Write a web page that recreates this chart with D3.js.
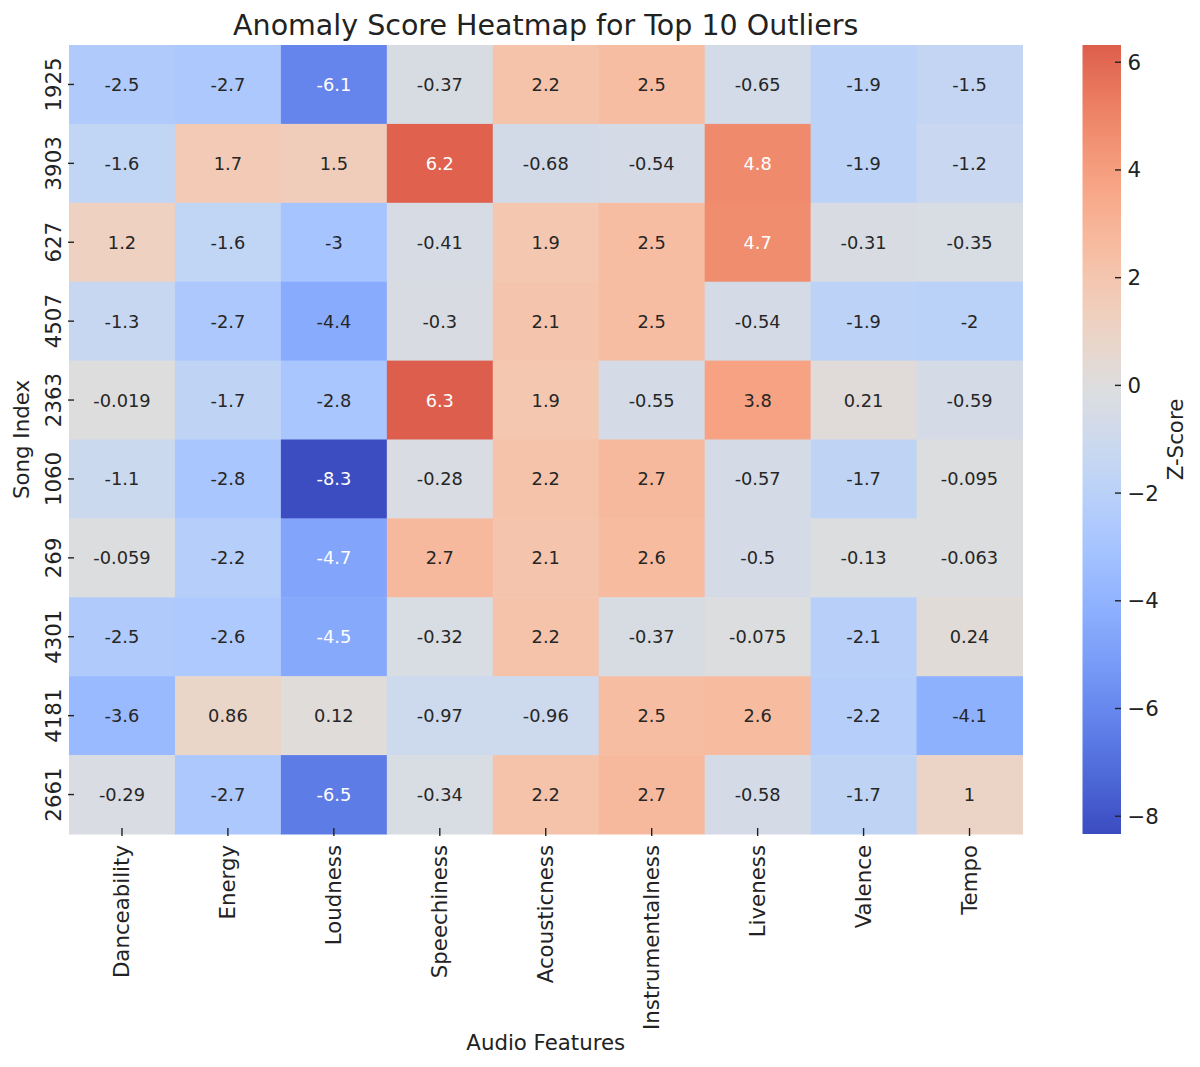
<!DOCTYPE html>
<html>
<head>
<meta charset="utf-8">
<script src="https://cdn.jsdelivr.net/npm/d3@7"></script>
<style>
  body { margin: 0; background: #fff; }
  svg { display: block; font-family: "DejaVu Sans", sans-serif; }
</style>
</head>
<body>
<div id="chart"></div>
<script>
// data
const songs = ["1925", "3903", "627", "4507", "2363", "1060", "269", "4301", "4181", "2661"];
const features = ["Danceability", "Energy", "Loudness", "Speechiness", "Acousticness",
  "Instrumentalness", "Liveness", "Valence", "Tempo"];
const zscores = [
  [-2.5, -2.7, -6.1, -0.37, 2.2, 2.5, -0.65, -1.9, -1.5],
  [-1.6, 1.7, 1.5, 6.2, -0.68, -0.54, 4.8, -1.9, -1.2],
  [1.2, -1.6, -3, -0.41, 1.9, 2.5, 4.7, -0.31, -0.35],
  [-1.3, -2.7, -4.4, -0.3, 2.1, 2.5, -0.54, -1.9, -2],
  [-0.019, -1.7, -2.8, 6.3, 1.9, -0.55, 3.8, 0.21, -0.59],
  [-1.1, -2.8, -8.3, -0.28, 2.2, 2.7, -0.57, -1.7, -0.095],
  [-0.059, -2.2, -4.7, 2.7, 2.1, 2.6, -0.5, -0.13, -0.063],
  [-2.5, -2.6, -4.5, -0.32, 2.2, -0.37, -0.075, -2.1, 0.24],
  [-3.6, 0.86, 0.12, -0.97, -0.96, 2.5, 2.6, -2.2, -4.1],
  [-0.29, -2.7, -6.5, -0.34, 2.2, 2.7, -0.58, -1.7, 1]
];
const colorbarTicks = [-8, -6, -4, -2, 0, 2, 4, 6];
const zMin = -8.33, zMax = 6.32; // colorbar limits

// matplotlib coolwarm
const coolwarmStops = [
  [59,76,192],[68,90,204],[77,104,215],[87,117,225],[98,130,234],[108,142,241],
  [119,154,247],[130,165,251],[141,176,254],[152,185,255],[163,194,255],[174,201,253],
  [184,208,249],[194,213,244],[204,217,238],[213,219,230],[221,221,221],[229,216,209],
  [236,211,197],[241,204,185],[245,196,173],[247,187,160],[247,177,148],[247,166,135],
  [244,154,123],[241,141,111],[236,127,99],[229,112,88],[222,96,77],[213,80,66],
  [203,62,56],[192,40,47],[180,4,38]
].map((c) => d3.rgb(c[0], c[1], c[2]));
const coolwarm = d3.piecewise(d3.interpolateRgb, coolwarmStops);

// seaborn center=0
const vrange = Math.max(zMax, -zMin);
const color = (v) => coolwarm(0.5 + v / (2 * vrange));

function luminance(c) {
  const rgb = d3.rgb(c);
  const lin = (x) => {
    x /= 255;
    return x <= 0.03928 ? x / 12.92 : Math.pow((x + 0.055) / 1.055, 2.4);
  };
  return 0.2126 * lin(rgb.r) + 0.7152 * lin(rgb.g) + 0.0722 * lin(rgb.b);
}

const width = 1200;
const height = 1067;
const margin = { top: 45, left: 69, right: 177.5, bottom: 233 };
const textColor = "#222";
const tickFont = "21.3px";

const svg = d3.select("#chart")
  .append("svg")
  .attr("width", width)
  .attr("height", height);

const x = d3.scaleBand()
  .domain(features)
  .range([margin.left, width - margin.right]);

const y = d3.scaleBand()
  .domain(songs)
  .range([margin.top, height - margin.bottom]);

const cells = songs.flatMap((s, i) =>
  features.map((f, j) => ({ song: s, feature: f, value: zscores[i][j] }))
);

// heatmap cells
svg.append("g")
  .selectAll("rect")
  .data(cells)
  .join("rect")
  .attr("x", (d) => x(d.feature))
  .attr("y", (d) => y(d.song))
  .attr("width", x.bandwidth() + 0.5)
  .attr("height", y.bandwidth() + 0.5)
  .attr("fill", (d) => color(d.value));

// annotations
svg.append("g")
  .selectAll("text")
  .data(cells)
  .join("text")
  .attr("x", (d) => x(d.feature) + x.bandwidth() / 2)
  .attr("y", (d) => y(d.song) + y.bandwidth() / 2)
  .attr("text-anchor", "middle")
  .attr("dominant-baseline", "central")
  .attr("font-size", "17.8px")
  .attr("fill", (d) => (luminance(color(d.value)) > 0.408 ? "#262626" : "#ffffff"))
  .text((d) => String(d.value));

const bottom = height - margin.bottom;
const right = width - margin.right;

// x ticks + labels
const xt = svg.append("g");
features.forEach((f) => {
  const cx = x(f) + x.bandwidth() / 2;
  xt.append("line")
    .attr("x1", cx).attr("x2", cx)
    .attr("y1", bottom - 6).attr("y2", bottom + 2)
    .attr("stroke", textColor).attr("stroke-width", 1.4);
  xt.append("text")
    .attr("transform", `translate(${cx},845) rotate(-90)`)
    .attr("text-anchor", "end")
    .attr("dy", "0.35em")
    .attr("font-size", tickFont)
    .attr("fill", textColor)
    .text(f);
});

// y ticks + labels
const yt = svg.append("g");
songs.forEach((s) => {
  const cy = y(s) + y.bandwidth() / 2;
  yt.append("line")
    .attr("x1", margin.left - 1).attr("x2", margin.left + 5)
    .attr("y1", cy).attr("y2", cy)
    .attr("stroke", textColor).attr("stroke-width", 1.4);
  yt.append("text")
    .attr("transform", `translate(60.5,${cy}) rotate(-90)`)
    .attr("text-anchor", "middle")
    .attr("font-size", tickFont)
    .attr("fill", textColor)
    .text(s);
});

// title and axis labels
svg.append("text")
  .attr("x", (margin.left + right) / 2)
  .attr("y", 34.5)
  .attr("text-anchor", "middle")
  .attr("font-size", "28.5px")
  .attr("fill", textColor)
  .text("Anomaly Score Heatmap for Top 10 Outliers");

svg.append("text")
  .attr("x", (margin.left + right) / 2)
  .attr("y", 1050)
  .attr("text-anchor", "middle")
  .attr("font-size", tickFont)
  .attr("fill", textColor)
  .text("Audio Features");

svg.append("text")
  .attr("transform", `translate(29,${(margin.top + bottom) / 2}) rotate(-90)`)
  .attr("text-anchor", "middle")
  .attr("font-size", tickFont)
  .attr("fill", textColor)
  .text("Song Index");

// colorbar
const cbX = 1082.5, cbW = 38.5;
const cbScale = d3.scaleLinear()
  .domain([zMin, zMax])
  .range([bottom, margin.top]);

const grad = svg.append("defs")
  .append("linearGradient")
  .attr("id", "cbgrad")
  .attr("x1", 0).attr("x2", 0).attr("y1", 1).attr("y2", 0);
d3.range(0, 1.0001, 1 / 64).forEach((t) => {
  grad.append("stop")
    .attr("offset", t)
    .attr("stop-color", color(zMin + t * (zMax - zMin)));
});

svg.append("rect")
  .attr("x", cbX)
  .attr("y", margin.top)
  .attr("width", cbW)
  .attr("height", bottom - margin.top)
  .attr("fill", "url(#cbgrad)");

const cb = svg.append("g");
colorbarTicks.forEach((t) => {
  const ty = cbScale(t);
  cb.append("line")
    .attr("x1", cbX + cbW - 6).attr("x2", cbX + cbW)
    .attr("y1", ty).attr("y2", ty)
    .attr("stroke", textColor).attr("stroke-width", 1.4);
  cb.append("text")
    .attr("x", 1127.5)
    .attr("y", ty)
    .attr("dominant-baseline", "central")
    .attr("font-size", tickFont)
    .attr("fill", textColor)
    .text(d3.format("d")(t));
});

svg.append("text")
  .attr("transform", `translate(1182.5,${(margin.top + bottom) / 2}) rotate(-90)`)
  .attr("text-anchor", "middle")
  .attr("font-size", tickFont)
  .attr("fill", textColor)
  .text("Z-Score");
</script>
</body>
</html>
